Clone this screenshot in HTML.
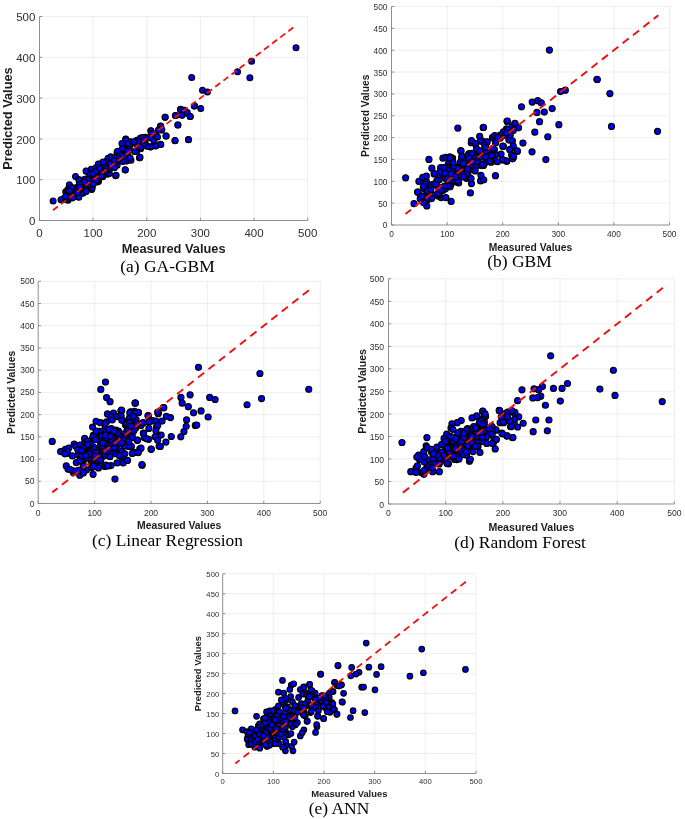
<!DOCTYPE html><html><head><meta charset="utf-8"><title>Predicted vs Measured</title>
<style>html,body{margin:0;padding:0;background:#fff}svg{display:block}.t{font-family:"Liberation Sans",Arial,sans-serif;fill:#2e2e2e}.l{font-family:"Liberation Sans",Arial,sans-serif;font-weight:bold;fill:#1c1c1c}.c{font-family:"Liberation Serif","Times New Roman",serif;fill:#000}.g{stroke:#e4e4e4;stroke-width:0.65;fill:none}.ax{stroke:#7c7c7c;stroke-width:0.85;fill:none}.p circle{fill:#0000ff;stroke:#000;stroke-width:1.2}.d{stroke:#f01010;fill:none}</style></head><body>
<svg width="685" height="819" viewBox="0 0 685 819">
<rect width="685" height="819" fill="#fff"/>
<g id="plot-a">
<path class="g" d="M93.14 16.5V220.5M146.78 16.5V220.5M200.42 16.5V220.5M254.06 16.5V220.5M307.7 16.5V220.5M39.5 179.7H307.7M39.5 138.9H307.7M39.5 98.1H307.7M39.5 57.3H307.7M39.5 16.5H307.7"/>
<path class="ax" d="M39.5 16.5V220.5H307.7M39.5 220.5v-2.7M93.14 220.5v-2.7M146.78 220.5v-2.7M200.42 220.5v-2.7M254.06 220.5v-2.7M307.7 220.5v-2.7M39.5 220.5h2.7M39.5 179.7h2.7M39.5 138.9h2.7M39.5 98.1h2.7M39.5 57.3h2.7M39.5 16.5h2.7"/>
<g class="p">
<circle cx="53.12" cy="200.92" r="2.9"/>
<circle cx="61.01" cy="199.69" r="2.9"/>
<circle cx="67.98" cy="200.22" r="2.9"/>
<circle cx="65.73" cy="191.82" r="2.9"/>
<circle cx="69.38" cy="184.8" r="2.9"/>
<circle cx="67.98" cy="189.21" r="2.9"/>
<circle cx="75.55" cy="176.4" r="2.9"/>
<circle cx="78.87" cy="179.58" r="2.9"/>
<circle cx="86.38" cy="171.34" r="2.9"/>
<circle cx="91.26" cy="169.58" r="2.9"/>
<circle cx="98.61" cy="164.32" r="2.9"/>
<circle cx="106.5" cy="161.5" r="2.9"/>
<circle cx="111.75" cy="161.18" r="2.9"/>
<circle cx="117.01" cy="152.4" r="2.9"/>
<circle cx="120.82" cy="150.65" r="2.9"/>
<circle cx="125.75" cy="139.27" r="2.9"/>
<circle cx="130.63" cy="143.63" r="2.9"/>
<circle cx="136.75" cy="140.16" r="2.9"/>
<circle cx="73.24" cy="197.08" r="2.9"/>
<circle cx="82.89" cy="193.25" r="2.9"/>
<circle cx="91.64" cy="189.53" r="2.9"/>
<circle cx="98.61" cy="181.33" r="2.9"/>
<circle cx="107.35" cy="174.31" r="2.9"/>
<circle cx="115.62" cy="175.7" r="2.9"/>
<circle cx="125.38" cy="169.91" r="2.9"/>
<circle cx="126.99" cy="160.65" r="2.9"/>
<circle cx="131.01" cy="160.28" r="2.9"/>
<circle cx="139.75" cy="157.67" r="2.9"/>
<circle cx="117.6" cy="151.3" r="2.9"/>
<circle cx="121.94" cy="143.43" r="2.9"/>
<circle cx="125.81" cy="139.06" r="2.9"/>
<circle cx="130.69" cy="141.67" r="2.9"/>
<circle cx="136.8" cy="140.82" r="2.9"/>
<circle cx="145.6" cy="137.31" r="2.9"/>
<circle cx="150.8" cy="130.66" r="2.9"/>
<circle cx="160.46" cy="125.93" r="2.9"/>
<circle cx="165.18" cy="117.15" r="2.9"/>
<circle cx="116.15" cy="175.29" r="2.9"/>
<circle cx="125.11" cy="169.7" r="2.9"/>
<circle cx="126.34" cy="160.93" r="2.9"/>
<circle cx="139.43" cy="157.79" r="2.9"/>
<circle cx="136.8" cy="151.3" r="2.9"/>
<circle cx="145.6" cy="145.18" r="2.9"/>
<circle cx="150.48" cy="146.94" r="2.9"/>
<circle cx="155.52" cy="146.04" r="2.9"/>
<circle cx="160.46" cy="144.33" r="2.9"/>
<circle cx="166.04" cy="136.08" r="2.9"/>
<circle cx="174.99" cy="140.82" r="2.9"/>
<circle cx="188.46" cy="139.59" r="2.9"/>
<circle cx="177.94" cy="125.03" r="2.9"/>
<circle cx="175.32" cy="115.4" r="2.9"/>
<circle cx="180.57" cy="109.28" r="2.9"/>
<circle cx="184.44" cy="110.14" r="2.9"/>
<circle cx="186.69" cy="113.32" r="2.9"/>
<circle cx="190.17" cy="116.62" r="2.9"/>
<circle cx="181.97" cy="115.03" r="2.9"/>
<circle cx="194.57" cy="106.1" r="2.9"/>
<circle cx="156.06" cy="135.88" r="2.9"/>
<circle cx="151.71" cy="133.8" r="2.9"/>
<circle cx="161.32" cy="129.92" r="2.9"/>
<circle cx="86.06" cy="170.93" r="2.9"/>
<circle cx="91.32" cy="169.17" r="2.9"/>
<circle cx="98.34" cy="163.91" r="2.9"/>
<circle cx="106.23" cy="161.46" r="2.9"/>
<circle cx="111.81" cy="160.93" r="2.9"/>
<circle cx="102.69" cy="176.72" r="2.9"/>
<circle cx="97.43" cy="181.98" r="2.9"/>
<circle cx="92.23" cy="188.1" r="2.9"/>
<circle cx="191.68" cy="77.54" r="2.9"/>
<circle cx="202.51" cy="90.31" r="2.9"/>
<circle cx="207.39" cy="92.06" r="2.9"/>
<circle cx="194.31" cy="105.89" r="2.9"/>
<circle cx="200.74" cy="108.54" r="2.9"/>
<circle cx="180.47" cy="109.56" r="2.9"/>
<circle cx="183.95" cy="110.26" r="2.9"/>
<circle cx="187.28" cy="112.54" r="2.9"/>
<circle cx="190.23" cy="116.42" r="2.9"/>
<circle cx="175.91" cy="115.52" r="2.9"/>
<circle cx="182.02" cy="115.2" r="2.9"/>
<circle cx="165.07" cy="117.28" r="2.9"/>
<circle cx="177.84" cy="124.99" r="2.9"/>
<circle cx="188.51" cy="139.72" r="2.9"/>
<circle cx="175.05" cy="140.41" r="2.9"/>
<circle cx="166.09" cy="136.04" r="2.9"/>
<circle cx="160.83" cy="126.21" r="2.9"/>
<circle cx="161.91" cy="129.72" r="2.9"/>
<circle cx="158.42" cy="130.09" r="2.9"/>
<circle cx="151.07" cy="130.94" r="2.9"/>
<circle cx="151.77" cy="133.6" r="2.9"/>
<circle cx="156.33" cy="135.68" r="2.9"/>
<circle cx="146.14" cy="137.96" r="2.9"/>
<circle cx="150.53" cy="137.96" r="2.9"/>
<circle cx="154.02" cy="140.94" r="2.9"/>
<circle cx="157.51" cy="137.06" r="2.9"/>
<circle cx="160.83" cy="144.45" r="2.9"/>
<circle cx="155.79" cy="145.84" r="2.9"/>
<circle cx="150.53" cy="146.73" r="2.9"/>
<circle cx="147.05" cy="146.37" r="2.9"/>
<circle cx="145.28" cy="143.22" r="2.9"/>
<circle cx="126.02" cy="139.72" r="2.9"/>
<circle cx="137.39" cy="140.57" r="2.9"/>
<circle cx="130.42" cy="144.08" r="2.9"/>
<circle cx="140.02" cy="157.22" r="2.9"/>
<circle cx="123.39" cy="151.1" r="2.9"/>
<circle cx="296.01" cy="47.71" r="2.9"/>
<circle cx="251.59" cy="61.26" r="2.9"/>
<circle cx="237.54" cy="71.82" r="2.9"/>
<circle cx="249.88" cy="77.82" r="2.9"/>
<circle cx="95.5" cy="173.05" r="2.9"/>
<circle cx="100.33" cy="174.27" r="2.9"/>
<circle cx="78.93" cy="192.84" r="2.9"/>
<circle cx="80.59" cy="191.82" r="2.9"/>
<circle cx="108.05" cy="158.36" r="2.9"/>
<circle cx="117.49" cy="160.48" r="2.9"/>
<circle cx="100.76" cy="171.38" r="2.9"/>
<circle cx="73.4" cy="190.8" r="2.9"/>
<circle cx="86.49" cy="187.78" r="2.9"/>
<circle cx="90.89" cy="180.07" r="2.9"/>
<circle cx="119.75" cy="156.61" r="2.9"/>
<circle cx="126.34" cy="146.73" r="2.9"/>
<circle cx="139" cy="144.82" r="2.9"/>
<circle cx="140.5" cy="137.92" r="2.9"/>
<circle cx="116.53" cy="158.24" r="2.9"/>
<circle cx="79.62" cy="182.96" r="2.9"/>
<circle cx="82.68" cy="187.25" r="2.9"/>
<circle cx="115.51" cy="164.36" r="2.9"/>
<circle cx="67.82" cy="198.63" r="2.9"/>
<circle cx="70.07" cy="193.08" r="2.9"/>
<circle cx="86.01" cy="181.21" r="2.9"/>
<circle cx="86.17" cy="182.92" r="2.9"/>
<circle cx="91.53" cy="182.15" r="2.9"/>
<circle cx="71.15" cy="194.59" r="2.9"/>
<circle cx="91.05" cy="175.21" r="2.9"/>
<circle cx="86.54" cy="186.02" r="2.9"/>
<circle cx="88.63" cy="182.03" r="2.9"/>
<circle cx="96.25" cy="167.58" r="2.9"/>
<circle cx="81.23" cy="193.08" r="2.9"/>
<circle cx="106.12" cy="170.52" r="2.9"/>
<circle cx="124.04" cy="152" r="2.9"/>
<circle cx="97.38" cy="174.6" r="2.9"/>
<circle cx="65.84" cy="199.57" r="2.9"/>
<circle cx="140.72" cy="148.86" r="2.9"/>
<circle cx="83.7" cy="179.86" r="2.9"/>
<circle cx="108.43" cy="168.68" r="2.9"/>
<circle cx="67.61" cy="190.76" r="2.9"/>
<circle cx="126.07" cy="158.81" r="2.9"/>
<circle cx="98.61" cy="171.62" r="2.9"/>
<circle cx="117.17" cy="165.3" r="2.9"/>
<circle cx="87.08" cy="178.72" r="2.9"/>
<circle cx="81.88" cy="189.33" r="2.9"/>
<circle cx="82.36" cy="185.17" r="2.9"/>
<circle cx="129.35" cy="147.22" r="2.9"/>
<circle cx="104.51" cy="166.89" r="2.9"/>
<circle cx="89.92" cy="177.62" r="2.9"/>
<circle cx="110.14" cy="161.83" r="2.9"/>
<circle cx="67.93" cy="193.69" r="2.9"/>
<circle cx="121.94" cy="156.57" r="2.9"/>
<circle cx="72.54" cy="191.98" r="2.9"/>
<circle cx="109.45" cy="164.89" r="2.9"/>
<circle cx="109.34" cy="173.46" r="2.9"/>
<circle cx="98.4" cy="170.4" r="2.9"/>
<circle cx="87.4" cy="183.74" r="2.9"/>
<circle cx="121.09" cy="160.56" r="2.9"/>
<circle cx="78.12" cy="190.27" r="2.9"/>
<circle cx="142.6" cy="137.47" r="2.9"/>
<circle cx="122.8" cy="161.42" r="2.9"/>
<circle cx="76.46" cy="196.06" r="2.9"/>
<circle cx="99.09" cy="175.29" r="2.9"/>
<circle cx="85.09" cy="179.21" r="2.9"/>
<circle cx="101.99" cy="168.68" r="2.9"/>
<circle cx="112.13" cy="158.52" r="2.9"/>
<circle cx="103.28" cy="174.15" r="2.9"/>
<circle cx="103.98" cy="170.68" r="2.9"/>
<circle cx="108.16" cy="169.95" r="2.9"/>
<circle cx="84.66" cy="185.33" r="2.9"/>
<circle cx="78.6" cy="186.31" r="2.9"/>
<circle cx="98.24" cy="180.6" r="2.9"/>
<circle cx="75.01" cy="190.35" r="2.9"/>
<circle cx="85.9" cy="184.35" r="2.9"/>
<circle cx="111.43" cy="166.97" r="2.9"/>
<circle cx="75.87" cy="187.66" r="2.9"/>
<circle cx="88.58" cy="185" r="2.9"/>
<circle cx="127.68" cy="154.73" r="2.9"/>
<circle cx="71.79" cy="187.53" r="2.9"/>
<circle cx="114.06" cy="165.09" r="2.9"/>
<circle cx="88.63" cy="179.33" r="2.9"/>
<circle cx="99.9" cy="172.44" r="2.9"/>
<circle cx="103.92" cy="168.72" r="2.9"/>
<circle cx="102.8" cy="169.83" r="2.9"/>
<circle cx="93.57" cy="175.7" r="2.9"/>
<circle cx="117.6" cy="156.2" r="2.9"/>
<circle cx="124.36" cy="148.98" r="2.9"/>
<circle cx="143.19" cy="144.08" r="2.9"/>
<circle cx="119.85" cy="157.95" r="2.9"/>
<circle cx="76.14" cy="193.94" r="2.9"/>
<circle cx="110.25" cy="168.56" r="2.9"/>
<circle cx="143.67" cy="140.29" r="2.9"/>
<circle cx="138.68" cy="147.79" r="2.9"/>
<circle cx="92.66" cy="179.17" r="2.9"/>
<circle cx="115.13" cy="162.44" r="2.9"/>
<circle cx="69.32" cy="191.12" r="2.9"/>
<circle cx="110.73" cy="156.85" r="2.9"/>
<circle cx="94.53" cy="177.58" r="2.9"/>
<circle cx="116.1" cy="161.26" r="2.9"/>
<circle cx="104.35" cy="173.17" r="2.9"/>
<circle cx="93.19" cy="180.48" r="2.9"/>
<circle cx="105.37" cy="168.03" r="2.9"/>
<circle cx="127.9" cy="143.59" r="2.9"/>
<circle cx="112.93" cy="163.14" r="2.9"/>
<circle cx="86.17" cy="191.45" r="2.9"/>
<circle cx="95.23" cy="171.01" r="2.9"/>
<circle cx="104.67" cy="165.5" r="2.9"/>
<circle cx="74.04" cy="193.86" r="2.9"/>
<circle cx="80.11" cy="188.76" r="2.9"/>
<circle cx="90.46" cy="185.09" r="2.9"/>
<circle cx="121.94" cy="154.93" r="2.9"/>
<circle cx="136.53" cy="144.16" r="2.9"/>
<circle cx="77.58" cy="188.72" r="2.9"/>
<circle cx="64.55" cy="197.86" r="2.9"/>
<circle cx="71.09" cy="196.63" r="2.9"/>
<circle cx="108.86" cy="167.09" r="2.9"/>
<circle cx="107.84" cy="162.65" r="2.9"/>
<circle cx="134.55" cy="151.59" r="2.9"/>
<circle cx="102.9" cy="175.38" r="2.9"/>
<circle cx="123.98" cy="156.24" r="2.9"/>
<circle cx="79.14" cy="180.39" r="2.9"/>
<circle cx="68.95" cy="196.14" r="2.9"/>
<circle cx="130.04" cy="157.79" r="2.9"/>
<circle cx="72.33" cy="197.94" r="2.9"/>
<circle cx="138.3" cy="141.43" r="2.9"/>
<circle cx="82.84" cy="182.64" r="2.9"/>
<circle cx="84.34" cy="183.7" r="2.9"/>
<circle cx="78.82" cy="197.24" r="2.9"/>
<circle cx="75.55" cy="192.02" r="2.9"/>
<circle cx="114.76" cy="157.71" r="2.9"/>
<circle cx="128.86" cy="149.75" r="2.9"/>
<circle cx="93.25" cy="183.98" r="2.9"/>
<circle cx="96.2" cy="179.86" r="2.9"/>
<circle cx="77.1" cy="192.88" r="2.9"/>
<circle cx="79.3" cy="184.64" r="2.9"/>
<circle cx="106.12" cy="166.07" r="2.9"/>
<circle cx="110.3" cy="163.79" r="2.9"/>
<circle cx="90.24" cy="173.99" r="2.9"/>
<circle cx="103.6" cy="163.95" r="2.9"/>
<circle cx="102.9" cy="162.12" r="2.9"/>
<circle cx="140.5" cy="147.55" r="2.9"/>
<circle cx="79.94" cy="187.08" r="2.9"/>
<circle cx="101.62" cy="173.42" r="2.9"/>
<circle cx="126.99" cy="151.34" r="2.9"/>
<circle cx="99.74" cy="168.28" r="2.9"/>
<circle cx="133.8" cy="141.8" r="2.9"/>
<circle cx="92.66" cy="173.66" r="2.9"/>
<circle cx="122.37" cy="148.77" r="2.9"/>
<circle cx="65.84" cy="196.55" r="2.9"/>
<circle cx="114.44" cy="160.48" r="2.9"/>
<circle cx="101.03" cy="175.95" r="2.9"/>
<circle cx="114.44" cy="167.79" r="2.9"/>
<circle cx="84.56" cy="181.9" r="2.9"/>
</g>
<path class="d" stroke-width="1.8" stroke-dasharray="6.2 4.0" stroke-dashoffset="0" d="M52.91 210.3L295.9 25.48"/>
<text class="t" x="39.5" y="237" font-size="11.5" text-anchor="middle">0</text>
<text class="t" x="93.14" y="237" font-size="11.5" text-anchor="middle">100</text>
<text class="t" x="146.78" y="237" font-size="11.5" text-anchor="middle">200</text>
<text class="t" x="200.42" y="237" font-size="11.5" text-anchor="middle">300</text>
<text class="t" x="254.06" y="237" font-size="11.5" text-anchor="middle">400</text>
<text class="t" x="307.7" y="237" font-size="11.5" text-anchor="middle">500</text>
<text class="t" x="35.4" y="225.14" font-size="11.5" text-anchor="end">0</text>
<text class="t" x="35.4" y="184.34" font-size="11.5" text-anchor="end">100</text>
<text class="t" x="35.4" y="143.54" font-size="11.5" text-anchor="end">200</text>
<text class="t" x="35.4" y="102.74" font-size="11.5" text-anchor="end">300</text>
<text class="t" x="35.4" y="61.94" font-size="11.5" text-anchor="end">400</text>
<text class="t" x="35.4" y="21.14" font-size="11.5" text-anchor="end">500</text>
<text class="l" x="173.6" y="253" font-size="12.8" text-anchor="middle">Measured Values</text>
<text class="l" transform="translate(11.7 118.5) rotate(-90)" font-size="12.8" text-anchor="middle">Predicted Values</text>
<text class="c" x="167.5" y="272" font-size="17.45" text-anchor="middle">(a) GA-GBM</text>
</g>
<g id="plot-b">
<path class="g" d="M447.1 6.5V225M502.7 6.5V225M558.3 6.5V225M613.9 6.5V225M669.5 6.5V225M391.5 203.15H669.5M391.5 181.3H669.5M391.5 159.45H669.5M391.5 137.6H669.5M391.5 115.75H669.5M391.5 93.9H669.5M391.5 72.05H669.5M391.5 50.2H669.5M391.5 28.35H669.5M391.5 6.5H669.5"/>
<path class="ax" d="M391.5 6.5V225H669.5M391.5 225v-2.7M447.1 225v-2.7M502.7 225v-2.7M558.3 225v-2.7M613.9 225v-2.7M669.5 225v-2.7M391.5 225h2.7M391.5 203.15h2.7M391.5 181.3h2.7M391.5 159.45h2.7M391.5 137.6h2.7M391.5 115.75h2.7M391.5 93.9h2.7M391.5 72.05h2.7M391.5 50.2h2.7M391.5 28.35h2.7M391.5 6.5h2.7"/>
<g class="p">
<circle cx="405.62" cy="177.8" r="3.0"/>
<circle cx="457.83" cy="128.03" r="3.0"/>
<circle cx="483.18" cy="127.51" r="3.0"/>
<circle cx="428.92" cy="159.41" r="3.0"/>
<circle cx="495.47" cy="175.71" r="3.0"/>
<circle cx="470.4" cy="192.88" r="3.0"/>
<circle cx="451.16" cy="201.45" r="3.0"/>
<circle cx="414.02" cy="203.72" r="3.0"/>
<circle cx="426.81" cy="205.99" r="3.0"/>
<circle cx="507.2" cy="121.39" r="3.0"/>
<circle cx="514.77" cy="123.66" r="3.0"/>
<circle cx="417.52" cy="192.01" r="3.0"/>
<circle cx="418.91" cy="181.47" r="3.0"/>
<circle cx="422.75" cy="177.45" r="3.0"/>
<circle cx="431.87" cy="168.15" r="3.0"/>
<circle cx="434.15" cy="173.96" r="3.0"/>
<circle cx="442.93" cy="158.18" r="3.0"/>
<circle cx="445.88" cy="157.31" r="3.0"/>
<circle cx="449.94" cy="156.96" r="3.0"/>
<circle cx="452.55" cy="158.18" r="3.0"/>
<circle cx="460.94" cy="151.15" r="3.0"/>
<circle cx="469.17" cy="155.56" r="3.0"/>
<circle cx="471.29" cy="142.76" r="3.0"/>
<circle cx="475.68" cy="144.16" r="3.0"/>
<circle cx="479.68" cy="136.29" r="3.0"/>
<circle cx="482.35" cy="141.18" r="3.0"/>
<circle cx="487.08" cy="142.06" r="3.0"/>
<circle cx="492.47" cy="137.69" r="3.0"/>
<circle cx="495.47" cy="142.41" r="3.0"/>
<circle cx="500.75" cy="135.94" r="3.0"/>
<circle cx="503.37" cy="131.92" r="3.0"/>
<circle cx="506.54" cy="128.9" r="3.0"/>
<circle cx="512.1" cy="126.63" r="3.0"/>
<circle cx="420.69" cy="195.85" r="3.0"/>
<circle cx="427.14" cy="200.22" r="3.0"/>
<circle cx="423.64" cy="202.84" r="3.0"/>
<circle cx="435.92" cy="194.98" r="3.0"/>
<circle cx="441.15" cy="197.6" r="3.0"/>
<circle cx="445.88" cy="197.6" r="3.0"/>
<circle cx="442.93" cy="190.56" r="3.0"/>
<circle cx="450.83" cy="184.45" r="3.0"/>
<circle cx="456.05" cy="181.82" r="3.0"/>
<circle cx="460.44" cy="176.23" r="3.0"/>
<circle cx="466.56" cy="178.33" r="3.0"/>
<circle cx="471.45" cy="183.57" r="3.0"/>
<circle cx="480.57" cy="180.95" r="3.0"/>
<circle cx="483.74" cy="179.73" r="3.0"/>
<circle cx="480.96" cy="175.36" r="3.0"/>
<circle cx="485.3" cy="162.55" r="3.0"/>
<circle cx="493.75" cy="160.8" r="3.0"/>
<circle cx="502.48" cy="159.93" r="3.0"/>
<circle cx="506.87" cy="161.33" r="3.0"/>
<circle cx="512.99" cy="158.18" r="3.0"/>
<circle cx="517.38" cy="151.5" r="3.0"/>
<circle cx="510.37" cy="149.4" r="3.0"/>
<circle cx="503.37" cy="146.43" r="3.0"/>
<circle cx="597" cy="79.3" r="3.0"/>
<circle cx="565.31" cy="90.14" r="3.0"/>
<circle cx="560.58" cy="91.54" r="3.0"/>
<circle cx="532.22" cy="102.07" r="3.0"/>
<circle cx="537.78" cy="100.67" r="3.0"/>
<circle cx="541.29" cy="102.95" r="3.0"/>
<circle cx="521.49" cy="106.79" r="3.0"/>
<circle cx="552.18" cy="108.54" r="3.0"/>
<circle cx="536.95" cy="112.39" r="3.0"/>
<circle cx="544.29" cy="112.04" r="3.0"/>
<circle cx="539.56" cy="121.69" r="3.0"/>
<circle cx="558.86" cy="124.66" r="3.0"/>
<circle cx="534.84" cy="132.18" r="3.0"/>
<circle cx="547.79" cy="136.73" r="3.0"/>
<circle cx="522.94" cy="143.06" r="3.0"/>
<circle cx="532.06" cy="151.8" r="3.0"/>
<circle cx="545.85" cy="159.54" r="3.0"/>
<circle cx="507.15" cy="120.99" r="3.0"/>
<circle cx="515.04" cy="123.44" r="3.0"/>
<circle cx="518.55" cy="127.81" r="3.0"/>
<circle cx="513.26" cy="130.43" r="3.0"/>
<circle cx="507.15" cy="129.56" r="3.0"/>
<circle cx="483.52" cy="127.46" r="3.0"/>
<circle cx="500.14" cy="135.15" r="3.0"/>
<circle cx="506.26" cy="135.68" r="3.0"/>
<circle cx="492.8" cy="137.43" r="3.0"/>
<circle cx="508.93" cy="140.09" r="3.0"/>
<circle cx="512.43" cy="140.96" r="3.0"/>
<circle cx="487.02" cy="141.84" r="3.0"/>
<circle cx="495.75" cy="142.71" r="3.0"/>
<circle cx="502.76" cy="146.21" r="3.0"/>
<circle cx="513.26" cy="146.21" r="3.0"/>
<circle cx="509.76" cy="149.7" r="3.0"/>
<circle cx="517.32" cy="150.75" r="3.0"/>
<circle cx="511.54" cy="154.95" r="3.0"/>
<circle cx="501.03" cy="154.07" r="3.0"/>
<circle cx="495.75" cy="154.95" r="3.0"/>
<circle cx="490.52" cy="155.82" r="3.0"/>
<circle cx="512.43" cy="158.84" r="3.0"/>
<circle cx="506.26" cy="160.76" r="3.0"/>
<circle cx="502.42" cy="159.71" r="3.0"/>
<circle cx="493.14" cy="160.24" r="3.0"/>
<circle cx="483.52" cy="165.48" r="3.0"/>
<circle cx="549.4" cy="50.03" r="3.0"/>
<circle cx="597.22" cy="79.48" r="3.0"/>
<circle cx="609.9" cy="93.55" r="3.0"/>
<circle cx="611.51" cy="126.46" r="3.0"/>
<circle cx="657.55" cy="131.35" r="3.0"/>
<circle cx="448.32" cy="163.86" r="3.0"/>
<circle cx="464.34" cy="167.23" r="3.0"/>
<circle cx="424.64" cy="189.21" r="3.0"/>
<circle cx="460.83" cy="150.71" r="3.0"/>
<circle cx="444.32" cy="175.53" r="3.0"/>
<circle cx="510.26" cy="135.07" r="3.0"/>
<circle cx="474.23" cy="159.62" r="3.0"/>
<circle cx="445.99" cy="167.32" r="3.0"/>
<circle cx="458.66" cy="183" r="3.0"/>
<circle cx="475.73" cy="166.57" r="3.0"/>
<circle cx="426.42" cy="181.56" r="3.0"/>
<circle cx="461.11" cy="174.88" r="3.0"/>
<circle cx="469.01" cy="153.51" r="3.0"/>
<circle cx="462.45" cy="162.16" r="3.0"/>
<circle cx="449.94" cy="167.45" r="3.0"/>
<circle cx="478.12" cy="160.5" r="3.0"/>
<circle cx="439.48" cy="177.8" r="3.0"/>
<circle cx="440.65" cy="167.71" r="3.0"/>
<circle cx="476.62" cy="161.72" r="3.0"/>
<circle cx="430.75" cy="192.44" r="3.0"/>
<circle cx="429.36" cy="187.16" r="3.0"/>
<circle cx="478.12" cy="154.56" r="3.0"/>
<circle cx="469.9" cy="161.72" r="3.0"/>
<circle cx="476.12" cy="157.35" r="3.0"/>
<circle cx="447.21" cy="179.46" r="3.0"/>
<circle cx="426.75" cy="194.8" r="3.0"/>
<circle cx="490.97" cy="162.16" r="3.0"/>
<circle cx="485.91" cy="154.38" r="3.0"/>
<circle cx="433.26" cy="195.15" r="3.0"/>
<circle cx="439.26" cy="179.64" r="3.0"/>
<circle cx="455.88" cy="167.32" r="3.0"/>
<circle cx="445.6" cy="178.42" r="3.0"/>
<circle cx="458.83" cy="166.57" r="3.0"/>
<circle cx="447.54" cy="175.58" r="3.0"/>
<circle cx="450.16" cy="186.76" r="3.0"/>
<circle cx="428.86" cy="192.92" r="3.0"/>
<circle cx="463.95" cy="157.35" r="3.0"/>
<circle cx="466.56" cy="172.87" r="3.0"/>
<circle cx="461.83" cy="160.41" r="3.0"/>
<circle cx="457.5" cy="169.85" r="3.0"/>
<circle cx="467.51" cy="155.56" r="3.0"/>
<circle cx="492.19" cy="153.46" r="3.0"/>
<circle cx="442.43" cy="187.55" r="3.0"/>
<circle cx="451.71" cy="158.93" r="3.0"/>
<circle cx="418.08" cy="192.14" r="3.0"/>
<circle cx="460.94" cy="171.99" r="3.0"/>
<circle cx="438.43" cy="174.79" r="3.0"/>
<circle cx="451.66" cy="180.99" r="3.0"/>
<circle cx="437.87" cy="186.76" r="3.0"/>
<circle cx="427.64" cy="190.74" r="3.0"/>
<circle cx="438.98" cy="191.57" r="3.0"/>
<circle cx="494.42" cy="149.49" r="3.0"/>
<circle cx="426.36" cy="176.19" r="3.0"/>
<circle cx="449.38" cy="184.05" r="3.0"/>
<circle cx="452.22" cy="169.94" r="3.0"/>
<circle cx="463.61" cy="165" r="3.0"/>
<circle cx="484.63" cy="144.99" r="3.0"/>
<circle cx="480.35" cy="141.1" r="3.0"/>
<circle cx="456.44" cy="173.39" r="3.0"/>
<circle cx="458.66" cy="174.44" r="3.0"/>
<circle cx="469.45" cy="177.41" r="3.0"/>
<circle cx="486.13" cy="151.15" r="3.0"/>
<circle cx="468.39" cy="171.16" r="3.0"/>
<circle cx="464.39" cy="174.44" r="3.0"/>
<circle cx="450.55" cy="162.16" r="3.0"/>
<circle cx="434.53" cy="173.7" r="3.0"/>
<circle cx="462.61" cy="173.13" r="3.0"/>
<circle cx="476.23" cy="152.33" r="3.0"/>
<circle cx="431.64" cy="198.61" r="3.0"/>
<circle cx="436.87" cy="180.64" r="3.0"/>
<circle cx="476.57" cy="148.96" r="3.0"/>
<circle cx="461.61" cy="158.62" r="3.0"/>
<circle cx="457.83" cy="168.28" r="3.0"/>
<circle cx="472.4" cy="166" r="3.0"/>
<circle cx="438.37" cy="196.25" r="3.0"/>
<circle cx="448.55" cy="180.78" r="3.0"/>
<circle cx="465.89" cy="159.41" r="3.0"/>
<circle cx="460.39" cy="162.03" r="3.0"/>
<circle cx="471.45" cy="140.53" r="3.0"/>
<circle cx="420.25" cy="198.87" r="3.0"/>
<circle cx="471.9" cy="155.25" r="3.0"/>
<circle cx="438.04" cy="194.72" r="3.0"/>
<circle cx="440.32" cy="171.55" r="3.0"/>
<circle cx="449.82" cy="157.75" r="3.0"/>
<circle cx="474.07" cy="155.82" r="3.0"/>
<circle cx="449.1" cy="173.08" r="3.0"/>
<circle cx="459.44" cy="176.32" r="3.0"/>
<circle cx="468.84" cy="158.05" r="3.0"/>
<circle cx="480.57" cy="156.61" r="3.0"/>
<circle cx="445.49" cy="188.69" r="3.0"/>
<circle cx="424.75" cy="184.18" r="3.0"/>
<circle cx="489.91" cy="160.8" r="3.0"/>
<circle cx="430.86" cy="189.43" r="3.0"/>
<circle cx="475.12" cy="170.94" r="3.0"/>
<circle cx="447.04" cy="186.11" r="3.0"/>
<circle cx="461.78" cy="156.65" r="3.0"/>
<circle cx="452.83" cy="174.61" r="3.0"/>
<circle cx="431.42" cy="184.84" r="3.0"/>
<circle cx="469.23" cy="165.52" r="3.0"/>
<circle cx="492.75" cy="148.39" r="3.0"/>
<circle cx="465.61" cy="169.24" r="3.0"/>
<circle cx="453.33" cy="165.96" r="3.0"/>
<circle cx="481.07" cy="165.61" r="3.0"/>
<circle cx="466.39" cy="174.35" r="3.0"/>
<circle cx="467.51" cy="168.93" r="3.0"/>
<circle cx="453.1" cy="176.93" r="3.0"/>
<circle cx="463.89" cy="176.89" r="3.0"/>
<circle cx="471.06" cy="178.59" r="3.0"/>
<circle cx="472.56" cy="161.68" r="3.0"/>
<circle cx="482.57" cy="164.43" r="3.0"/>
<circle cx="448.43" cy="170.94" r="3.0"/>
<circle cx="453.1" cy="162.55" r="3.0"/>
<circle cx="462.89" cy="163.56" r="3.0"/>
<circle cx="447.38" cy="177.1" r="3.0"/>
<circle cx="485.24" cy="157.09" r="3.0"/>
<circle cx="456.5" cy="180.21" r="3.0"/>
<circle cx="423.36" cy="186.72" r="3.0"/>
<circle cx="434.03" cy="184.18" r="3.0"/>
<circle cx="435.92" cy="184.4" r="3.0"/>
<circle cx="485.91" cy="147.3" r="3.0"/>
<circle cx="438.32" cy="193.32" r="3.0"/>
<circle cx="444.54" cy="186.15" r="3.0"/>
<circle cx="444.26" cy="167.62" r="3.0"/>
<circle cx="491.36" cy="155.69" r="3.0"/>
<circle cx="500.31" cy="138.12" r="3.0"/>
<circle cx="494.75" cy="135.55" r="3.0"/>
<circle cx="444.82" cy="173.35" r="3.0"/>
<circle cx="427.31" cy="198.08" r="3.0"/>
<circle cx="440.59" cy="190.04" r="3.0"/>
<circle cx="497.42" cy="161.77" r="3.0"/>
<circle cx="458.11" cy="181.3" r="3.0"/>
<circle cx="472.06" cy="153.33" r="3.0"/>
<circle cx="421.91" cy="196.59" r="3.0"/>
<circle cx="455.5" cy="176.8" r="3.0"/>
<circle cx="497.47" cy="137.43" r="3.0"/>
<circle cx="479.85" cy="150.67" r="3.0"/>
<circle cx="506.37" cy="132.97" r="3.0"/>
<circle cx="450.83" cy="173.96" r="3.0"/>
<circle cx="513.65" cy="156.48" r="3.0"/>
<circle cx="475.62" cy="143.37" r="3.0"/>
</g>
<path class="d" stroke-width="1.95" stroke-dasharray="7.7 5.49" stroke-dashoffset="0.7" d="M405.4 214.07L658.38 15.24"/>
<text class="t" x="391.5" y="237.3" font-size="8.3" text-anchor="middle">0</text>
<text class="t" x="447.1" y="237.3" font-size="8.3" text-anchor="middle">100</text>
<text class="t" x="502.7" y="237.3" font-size="8.3" text-anchor="middle">200</text>
<text class="t" x="558.3" y="237.3" font-size="8.3" text-anchor="middle">300</text>
<text class="t" x="613.9" y="237.3" font-size="8.3" text-anchor="middle">400</text>
<text class="t" x="669.5" y="237.3" font-size="8.3" text-anchor="middle">500</text>
<text class="t" x="387.4" y="228.49" font-size="8.3" text-anchor="end">0</text>
<text class="t" x="387.4" y="206.64" font-size="8.3" text-anchor="end">50</text>
<text class="t" x="387.4" y="184.79" font-size="8.3" text-anchor="end">100</text>
<text class="t" x="387.4" y="162.94" font-size="8.3" text-anchor="end">150</text>
<text class="t" x="387.4" y="141.09" font-size="8.3" text-anchor="end">200</text>
<text class="t" x="387.4" y="119.24" font-size="8.3" text-anchor="end">250</text>
<text class="t" x="387.4" y="97.39" font-size="8.3" text-anchor="end">300</text>
<text class="t" x="387.4" y="75.54" font-size="8.3" text-anchor="end">350</text>
<text class="t" x="387.4" y="53.69" font-size="8.3" text-anchor="end">400</text>
<text class="t" x="387.4" y="31.84" font-size="8.3" text-anchor="end">450</text>
<text class="t" x="387.4" y="9.99" font-size="8.3" text-anchor="end">500</text>
<text class="l" x="530.5" y="250.5" font-size="10.3" text-anchor="middle">Measured Values</text>
<text class="l" transform="translate(368.5 115.75) rotate(-90)" font-size="10.3" text-anchor="middle">Predicted Values</text>
<text class="c" x="519.5" y="267.4" font-size="17.45" text-anchor="middle">(b) GBM</text>
</g>
<g id="plot-c">
<path class="g" d="M94.6 281.3V503.5M151 281.3V503.5M207.4 281.3V503.5M263.8 281.3V503.5M320.2 281.3V503.5M38.2 481.28H320.2M38.2 459.06H320.2M38.2 436.84H320.2M38.2 414.62H320.2M38.2 392.4H320.2M38.2 370.18H320.2M38.2 347.96H320.2M38.2 325.74H320.2M38.2 303.52H320.2M38.2 281.3H320.2"/>
<path class="ax" d="M38.2 281.3V503.5H320.2M38.2 503.5v-2.7M94.6 503.5v-2.7M151 503.5v-2.7M207.4 503.5v-2.7M263.8 503.5v-2.7M320.2 503.5v-2.7M38.2 503.5h2.7M38.2 481.28h2.7M38.2 459.06h2.7M38.2 436.84h2.7M38.2 414.62h2.7M38.2 392.4h2.7M38.2 370.18h2.7M38.2 347.96h2.7M38.2 325.74h2.7M38.2 303.52h2.7M38.2 281.3h2.7"/>
<g class="p">
<circle cx="100.8" cy="389.38" r="3.0"/>
<circle cx="106.56" cy="397.6" r="3.0"/>
<circle cx="110.05" cy="401.64" r="3.0"/>
<circle cx="135.15" cy="403.07" r="3.0"/>
<circle cx="120.94" cy="410.75" r="3.0"/>
<circle cx="107.46" cy="413.91" r="3.0"/>
<circle cx="113.55" cy="413.02" r="3.0"/>
<circle cx="117.1" cy="416.53" r="3.0"/>
<circle cx="130.75" cy="412.13" r="3.0"/>
<circle cx="134.59" cy="411.29" r="3.0"/>
<circle cx="138.48" cy="412.66" r="3.0"/>
<circle cx="96.07" cy="421.24" r="3.0"/>
<circle cx="100.47" cy="422.66" r="3.0"/>
<circle cx="106.56" cy="421.77" r="3.0"/>
<circle cx="92.57" cy="427.06" r="3.0"/>
<circle cx="84.67" cy="438.44" r="3.0"/>
<circle cx="52.24" cy="441.42" r="3.0"/>
<circle cx="74.18" cy="444.22" r="3.0"/>
<circle cx="75.93" cy="446.31" r="3.0"/>
<circle cx="60.65" cy="451.55" r="3.0"/>
<circle cx="65.38" cy="449.46" r="3.0"/>
<circle cx="68.88" cy="448.08" r="3.0"/>
<circle cx="67.13" cy="453.33" r="3.0"/>
<circle cx="72.43" cy="455.95" r="3.0"/>
<circle cx="66.29" cy="465.95" r="3.0"/>
<circle cx="68.04" cy="469.1" r="3.0"/>
<circle cx="73.28" cy="472.57" r="3.0"/>
<circle cx="79.77" cy="475.24" r="3.0"/>
<circle cx="86.42" cy="469.95" r="3.0"/>
<circle cx="93.08" cy="474.35" r="3.0"/>
<circle cx="114.96" cy="479.06" r="3.0"/>
<circle cx="142.15" cy="465.24" r="3.0"/>
<circle cx="151.23" cy="449.28" r="3.0"/>
<circle cx="139.83" cy="448.93" r="3.0"/>
<circle cx="134.59" cy="452.44" r="3.0"/>
<circle cx="127.59" cy="460.35" r="3.0"/>
<circle cx="123.19" cy="462.97" r="3.0"/>
<circle cx="117.1" cy="462.97" r="3.0"/>
<circle cx="110.96" cy="465.59" r="3.0"/>
<circle cx="104.81" cy="466.48" r="3.0"/>
<circle cx="99.56" cy="465.59" r="3.0"/>
<circle cx="148.24" cy="415.64" r="3.0"/>
<circle cx="143.33" cy="422.66" r="3.0"/>
<circle cx="152.13" cy="420.93" r="3.0"/>
<circle cx="143.33" cy="433.2" r="3.0"/>
<circle cx="144.23" cy="437.55" r="3.0"/>
<circle cx="148.63" cy="439.33" r="3.0"/>
<circle cx="137.24" cy="440.17" r="3.0"/>
<circle cx="156.47" cy="427.06" r="3.0"/>
<circle cx="157.37" cy="437.55" r="3.0"/>
<circle cx="159.12" cy="446.31" r="3.0"/>
<circle cx="158.28" cy="413.02" r="3.0"/>
<circle cx="198.49" cy="367.29" r="3.0"/>
<circle cx="190.09" cy="394.8" r="3.0"/>
<circle cx="180.95" cy="397.42" r="3.0"/>
<circle cx="182.19" cy="403.2" r="3.0"/>
<circle cx="188.34" cy="406.71" r="3.0"/>
<circle cx="209.71" cy="397.42" r="3.0"/>
<circle cx="215.13" cy="399.51" r="3.0"/>
<circle cx="201.08" cy="410.89" r="3.0"/>
<circle cx="193.58" cy="412.84" r="3.0"/>
<circle cx="208.13" cy="417.02" r="3.0"/>
<circle cx="186.59" cy="419.82" r="3.0"/>
<circle cx="186.19" cy="426.31" r="3.0"/>
<circle cx="195.33" cy="425.42" r="3.0"/>
<circle cx="196.74" cy="425.11" r="3.0"/>
<circle cx="183.94" cy="431.55" r="3.0"/>
<circle cx="180.78" cy="436.84" r="3.0"/>
<circle cx="171.3" cy="436.48" r="3.0"/>
<circle cx="165.89" cy="442.08" r="3.0"/>
<circle cx="160.31" cy="446.44" r="3.0"/>
<circle cx="151.17" cy="449.11" r="3.0"/>
<circle cx="163.46" cy="407.55" r="3.0"/>
<circle cx="158.16" cy="413.69" r="3.0"/>
<circle cx="166.4" cy="416.31" r="3.0"/>
<circle cx="170.46" cy="417.55" r="3.0"/>
<circle cx="162.05" cy="421.06" r="3.0"/>
<circle cx="135.43" cy="403.02" r="3.0"/>
<circle cx="121.73" cy="410.53" r="3.0"/>
<circle cx="130.53" cy="411.95" r="3.0"/>
<circle cx="138.37" cy="412.31" r="3.0"/>
<circle cx="134.87" cy="413.15" r="3.0"/>
<circle cx="148.01" cy="415.82" r="3.0"/>
<circle cx="152.41" cy="420.71" r="3.0"/>
<circle cx="155.91" cy="421.06" r="3.0"/>
<circle cx="157.66" cy="425.42" r="3.0"/>
<circle cx="155.91" cy="430.71" r="3.0"/>
<circle cx="161.15" cy="435.06" r="3.0"/>
<circle cx="155.06" cy="436.84" r="3.0"/>
<circle cx="157.66" cy="440.31" r="3.0"/>
<circle cx="143.67" cy="433.33" r="3.0"/>
<circle cx="146.26" cy="438.57" r="3.0"/>
<circle cx="137.52" cy="440.31" r="3.0"/>
<circle cx="141.02" cy="448.22" r="3.0"/>
<circle cx="131.37" cy="446.44" r="3.0"/>
<circle cx="132.28" cy="453.46" r="3.0"/>
<circle cx="138.37" cy="452.57" r="3.0"/>
<circle cx="127.03" cy="460.48" r="3.0"/>
<circle cx="121.73" cy="456.97" r="3.0"/>
<circle cx="141.92" cy="464.48" r="3.0"/>
<circle cx="129.62" cy="417.55" r="3.0"/>
<circle cx="131.37" cy="422.8" r="3.0"/>
<circle cx="141.02" cy="425.42" r="3.0"/>
<circle cx="135.77" cy="428.09" r="3.0"/>
<circle cx="132.28" cy="433.33" r="3.0"/>
<circle cx="127.03" cy="430.71" r="3.0"/>
<circle cx="123.48" cy="434.22" r="3.0"/>
<circle cx="127.88" cy="440.31" r="3.0"/>
<circle cx="122.63" cy="443.82" r="3.0"/>
<circle cx="121.73" cy="450.84" r="3.0"/>
<circle cx="142.77" cy="422.8" r="3.0"/>
<circle cx="148.91" cy="421.95" r="3.0"/>
<circle cx="259.91" cy="373.51" r="3.0"/>
<circle cx="308.75" cy="389.24" r="3.0"/>
<circle cx="261.54" cy="398.62" r="3.0"/>
<circle cx="247.05" cy="404.75" r="3.0"/>
<circle cx="105.49" cy="382.09" r="3.0"/>
<circle cx="135.21" cy="403.2" r="3.0"/>
<circle cx="121.39" cy="410.18" r="3.0"/>
<circle cx="163.8" cy="407.69" r="3.0"/>
<circle cx="112.14" cy="451.82" r="3.0"/>
<circle cx="100.41" cy="445.06" r="3.0"/>
<circle cx="110.22" cy="445.15" r="3.0"/>
<circle cx="119.13" cy="436.13" r="3.0"/>
<circle cx="124.77" cy="453.86" r="3.0"/>
<circle cx="82.98" cy="462.53" r="3.0"/>
<circle cx="95.5" cy="458.48" r="3.0"/>
<circle cx="91.22" cy="462.39" r="3.0"/>
<circle cx="89.41" cy="449.11" r="3.0"/>
<circle cx="83.66" cy="459.55" r="3.0"/>
<circle cx="110.56" cy="416.35" r="3.0"/>
<circle cx="112.31" cy="448.39" r="3.0"/>
<circle cx="107.18" cy="451.95" r="3.0"/>
<circle cx="129.79" cy="412.93" r="3.0"/>
<circle cx="104.47" cy="455.73" r="3.0"/>
<circle cx="93.47" cy="435.02" r="3.0"/>
<circle cx="124.38" cy="421.02" r="3.0"/>
<circle cx="96.74" cy="449.15" r="3.0"/>
<circle cx="112.54" cy="442.66" r="3.0"/>
<circle cx="76.33" cy="462.57" r="3.0"/>
<circle cx="115.24" cy="445.99" r="3.0"/>
<circle cx="90.65" cy="446.97" r="3.0"/>
<circle cx="119.02" cy="441.11" r="3.0"/>
<circle cx="84.22" cy="443.24" r="3.0"/>
<circle cx="103.17" cy="450.26" r="3.0"/>
<circle cx="107.63" cy="433.46" r="3.0"/>
<circle cx="92.12" cy="439.55" r="3.0"/>
<circle cx="88.96" cy="443.55" r="3.0"/>
<circle cx="108.64" cy="443.82" r="3.0"/>
<circle cx="93.53" cy="450.97" r="3.0"/>
<circle cx="114.34" cy="440.75" r="3.0"/>
<circle cx="98.1" cy="457.06" r="3.0"/>
<circle cx="103.74" cy="448.62" r="3.0"/>
<circle cx="105.88" cy="445.11" r="3.0"/>
<circle cx="86.7" cy="458.08" r="3.0"/>
<circle cx="116.09" cy="436.04" r="3.0"/>
<circle cx="93.58" cy="462.48" r="3.0"/>
<circle cx="114.62" cy="453.59" r="3.0"/>
<circle cx="114.62" cy="438.35" r="3.0"/>
<circle cx="106.61" cy="442.79" r="3.0"/>
<circle cx="115.81" cy="430.17" r="3.0"/>
<circle cx="116.03" cy="439.42" r="3.0"/>
<circle cx="115.19" cy="434.08" r="3.0"/>
<circle cx="148.86" cy="428.4" r="3.0"/>
<circle cx="101.82" cy="457.15" r="3.0"/>
<circle cx="125.79" cy="440.84" r="3.0"/>
<circle cx="136.11" cy="419.6" r="3.0"/>
<circle cx="106.11" cy="449.77" r="3.0"/>
<circle cx="87.32" cy="441.11" r="3.0"/>
<circle cx="101.88" cy="448.79" r="3.0"/>
<circle cx="133.69" cy="426.13" r="3.0"/>
<circle cx="105.09" cy="428.57" r="3.0"/>
<circle cx="129.4" cy="433.86" r="3.0"/>
<circle cx="118.51" cy="431.02" r="3.0"/>
<circle cx="122.18" cy="436.66" r="3.0"/>
<circle cx="99.51" cy="437.86" r="3.0"/>
<circle cx="73.56" cy="470.97" r="3.0"/>
<circle cx="91.61" cy="467.64" r="3.0"/>
<circle cx="99.17" cy="431.42" r="3.0"/>
<circle cx="127.65" cy="438.22" r="3.0"/>
<circle cx="92.29" cy="458.75" r="3.0"/>
<circle cx="101.48" cy="452.13" r="3.0"/>
<circle cx="88.11" cy="447.51" r="3.0"/>
<circle cx="78.19" cy="455.1" r="3.0"/>
<circle cx="87.21" cy="453.55" r="3.0"/>
<circle cx="125.56" cy="424.89" r="3.0"/>
<circle cx="79.88" cy="445.11" r="3.0"/>
<circle cx="99.11" cy="433.73" r="3.0"/>
<circle cx="96.4" cy="432.75" r="3.0"/>
<circle cx="105.15" cy="423.46" r="3.0"/>
<circle cx="116.54" cy="431.91" r="3.0"/>
<circle cx="67.3" cy="451.77" r="3.0"/>
<circle cx="100.41" cy="454.66" r="3.0"/>
<circle cx="112.14" cy="434.35" r="3.0"/>
<circle cx="83.88" cy="453.82" r="3.0"/>
<circle cx="107.46" cy="440.13" r="3.0"/>
<circle cx="110.45" cy="452.84" r="3.0"/>
<circle cx="124.55" cy="437.86" r="3.0"/>
<circle cx="104.64" cy="439.77" r="3.0"/>
<circle cx="105.88" cy="465.15" r="3.0"/>
<circle cx="110.62" cy="433.11" r="3.0"/>
<circle cx="96.46" cy="431.2" r="3.0"/>
<circle cx="97.53" cy="438.44" r="3.0"/>
<circle cx="89.69" cy="450.62" r="3.0"/>
<circle cx="64.88" cy="453.86" r="3.0"/>
<circle cx="102.27" cy="431.29" r="3.0"/>
<circle cx="83.43" cy="452.35" r="3.0"/>
<circle cx="130.02" cy="437.91" r="3.0"/>
<circle cx="102.44" cy="445.95" r="3.0"/>
<circle cx="93.02" cy="436.62" r="3.0"/>
<circle cx="133.4" cy="416.44" r="3.0"/>
<circle cx="116.43" cy="448.17" r="3.0"/>
<circle cx="92.01" cy="449.99" r="3.0"/>
<circle cx="126.3" cy="423.46" r="3.0"/>
<circle cx="117.84" cy="443.37" r="3.0"/>
<circle cx="70.29" cy="469.5" r="3.0"/>
<circle cx="101.54" cy="441.42" r="3.0"/>
<circle cx="157.66" cy="412.13" r="3.0"/>
<circle cx="117.39" cy="433.28" r="3.0"/>
<circle cx="92.17" cy="448.26" r="3.0"/>
<circle cx="112.2" cy="420" r="3.0"/>
<circle cx="100.3" cy="440" r="3.0"/>
<circle cx="90.54" cy="452.22" r="3.0"/>
<circle cx="93.47" cy="447.02" r="3.0"/>
<circle cx="81.35" cy="458.88" r="3.0"/>
<circle cx="114.34" cy="447.51" r="3.0"/>
<circle cx="128.55" cy="446.44" r="3.0"/>
<circle cx="119.64" cy="438.8" r="3.0"/>
<circle cx="121.16" cy="416.04" r="3.0"/>
<circle cx="110.05" cy="456.7" r="3.0"/>
<circle cx="107.68" cy="438" r="3.0"/>
<circle cx="108.59" cy="448.93" r="3.0"/>
<circle cx="111.41" cy="428.62" r="3.0"/>
<circle cx="105.15" cy="432.31" r="3.0"/>
<circle cx="80.05" cy="461.06" r="3.0"/>
<circle cx="80.78" cy="470.61" r="3.0"/>
<circle cx="83.38" cy="473.06" r="3.0"/>
<circle cx="102.72" cy="443.15" r="3.0"/>
<circle cx="98.6" cy="454.13" r="3.0"/>
<circle cx="124.32" cy="445.99" r="3.0"/>
<circle cx="107.8" cy="465.99" r="3.0"/>
<circle cx="77.85" cy="449.82" r="3.0"/>
<circle cx="114.34" cy="431.15" r="3.0"/>
<circle cx="103.06" cy="454.35" r="3.0"/>
<circle cx="95.16" cy="460.84" r="3.0"/>
<circle cx="90.88" cy="443.82" r="3.0"/>
<circle cx="131.09" cy="435.33" r="3.0"/>
<circle cx="92.74" cy="454.26" r="3.0"/>
<circle cx="83.26" cy="447.77" r="3.0"/>
<circle cx="132.5" cy="437.46" r="3.0"/>
<circle cx="87.61" cy="444.62" r="3.0"/>
<circle cx="96.97" cy="460.66" r="3.0"/>
<circle cx="112.08" cy="438.17" r="3.0"/>
<circle cx="83.21" cy="466.26" r="3.0"/>
<circle cx="95.78" cy="452.75" r="3.0"/>
<circle cx="113.32" cy="439.37" r="3.0"/>
<circle cx="78.41" cy="470.26" r="3.0"/>
<circle cx="128.89" cy="442" r="3.0"/>
<circle cx="98.38" cy="458.93" r="3.0"/>
<circle cx="111.52" cy="440.44" r="3.0"/>
<circle cx="100.01" cy="457.28" r="3.0"/>
<circle cx="100.58" cy="460.3" r="3.0"/>
<circle cx="129.4" cy="422.57" r="3.0"/>
<circle cx="95.22" cy="439.77" r="3.0"/>
<circle cx="81.63" cy="455.77" r="3.0"/>
<circle cx="93.53" cy="466.48" r="3.0"/>
<circle cx="101.59" cy="436.08" r="3.0"/>
<circle cx="128.44" cy="429.86" r="3.0"/>
<circle cx="110.22" cy="436.35" r="3.0"/>
<circle cx="105.15" cy="435.2" r="3.0"/>
<circle cx="81.85" cy="450.53" r="3.0"/>
<circle cx="108.76" cy="429.42" r="3.0"/>
<circle cx="88.9" cy="454.35" r="3.0"/>
<circle cx="118.91" cy="455.37" r="3.0"/>
<circle cx="123.25" cy="440.13" r="3.0"/>
<circle cx="137.18" cy="423.69" r="3.0"/>
<circle cx="94.99" cy="456.13" r="3.0"/>
<circle cx="114.62" cy="443.28" r="3.0"/>
<circle cx="121.84" cy="420.31" r="3.0"/>
<circle cx="122.12" cy="442.97" r="3.0"/>
<circle cx="133.91" cy="430.75" r="3.0"/>
<circle cx="85.8" cy="455.59" r="3.0"/>
<circle cx="98.49" cy="467.9" r="3.0"/>
<circle cx="104.98" cy="451.02" r="3.0"/>
<circle cx="130.75" cy="426.17" r="3.0"/>
</g>
<path class="d" stroke-width="1.95" stroke-dasharray="7.8 5.53" stroke-dashoffset="1.1" d="M52.3 492.39L308.92 290.19"/>
<text class="t" x="38.2" y="516" font-size="8.5" text-anchor="middle">0</text>
<text class="t" x="94.6" y="516" font-size="8.5" text-anchor="middle">100</text>
<text class="t" x="151" y="516" font-size="8.5" text-anchor="middle">200</text>
<text class="t" x="207.4" y="516" font-size="8.5" text-anchor="middle">300</text>
<text class="t" x="263.8" y="516" font-size="8.5" text-anchor="middle">400</text>
<text class="t" x="320.2" y="516" font-size="8.5" text-anchor="middle">500</text>
<text class="t" x="34.5" y="506.56" font-size="8.5" text-anchor="end">0</text>
<text class="t" x="34.5" y="484.34" font-size="8.5" text-anchor="end">50</text>
<text class="t" x="34.5" y="462.12" font-size="8.5" text-anchor="end">100</text>
<text class="t" x="34.5" y="439.9" font-size="8.5" text-anchor="end">150</text>
<text class="t" x="34.5" y="417.68" font-size="8.5" text-anchor="end">200</text>
<text class="t" x="34.5" y="395.46" font-size="8.5" text-anchor="end">250</text>
<text class="t" x="34.5" y="373.24" font-size="8.5" text-anchor="end">300</text>
<text class="t" x="34.5" y="351.02" font-size="8.5" text-anchor="end">350</text>
<text class="t" x="34.5" y="328.8" font-size="8.5" text-anchor="end">400</text>
<text class="t" x="34.5" y="306.58" font-size="8.5" text-anchor="end">450</text>
<text class="t" x="34.5" y="284.36" font-size="8.5" text-anchor="end">500</text>
<text class="l" x="179.2" y="529.1" font-size="10.4" text-anchor="middle">Measured Values</text>
<text class="l" transform="translate(15.4 392.4) rotate(-90)" font-size="10.4" text-anchor="middle">Predicted Values</text>
<text class="c" x="167.5" y="546" font-size="17.45" text-anchor="middle">(c) Linear Regression</text>
</g>
<g id="plot-d">
<path class="g" d="M445.66 278.8V504M502.82 278.8V504M559.98 278.8V504M617.14 278.8V504M674.3 278.8V504M388.5 481.48H674.3M388.5 458.96H674.3M388.5 436.44H674.3M388.5 413.92H674.3M388.5 391.4H674.3M388.5 368.88H674.3M388.5 346.36H674.3M388.5 323.84H674.3M388.5 301.32H674.3M388.5 278.8H674.3"/>
<path class="ax" d="M388.5 278.8V504H674.3M388.5 504v-2.7M445.66 504v-2.7M502.82 504v-2.7M559.98 504v-2.7M617.14 504v-2.7M674.3 504v-2.7M388.5 504h2.7M388.5 481.48h2.7M388.5 458.96h2.7M388.5 436.44h2.7M388.5 413.92h2.7M388.5 391.4h2.7M388.5 368.88h2.7M388.5 346.36h2.7M388.5 323.84h2.7M388.5 301.32h2.7M388.5 278.8h2.7"/>
<g class="p">
<circle cx="401.99" cy="442.48" r="3.0"/>
<circle cx="426.91" cy="437.57" r="3.0"/>
<circle cx="426.17" cy="445.94" r="3.0"/>
<circle cx="418.62" cy="455.09" r="3.0"/>
<circle cx="419.54" cy="459.46" r="3.0"/>
<circle cx="423.88" cy="451.57" r="3.0"/>
<circle cx="410.79" cy="471.71" r="3.0"/>
<circle cx="415.99" cy="468.19" r="3.0"/>
<circle cx="421.25" cy="472.61" r="3.0"/>
<circle cx="423.88" cy="474.36" r="3.0"/>
<circle cx="432.68" cy="471.71" r="3.0"/>
<circle cx="439.32" cy="471.71" r="3.0"/>
<circle cx="427.43" cy="466.48" r="3.0"/>
<circle cx="448.4" cy="463.82" r="3.0"/>
<circle cx="454.58" cy="459.46" r="3.0"/>
<circle cx="469.44" cy="461.21" r="3.0"/>
<circle cx="470.35" cy="459.46" r="3.0"/>
<circle cx="479.96" cy="452.43" r="3.0"/>
<circle cx="495.22" cy="448.96" r="3.0"/>
<circle cx="493.45" cy="441.93" r="3.0"/>
<circle cx="501.85" cy="433.2" r="3.0"/>
<circle cx="507.11" cy="435.81" r="3.0"/>
<circle cx="512.37" cy="437.57" r="3.0"/>
<circle cx="495.73" cy="430.18" r="3.0"/>
<circle cx="492.25" cy="427.03" r="3.0"/>
<circle cx="486.07" cy="427.03" r="3.0"/>
<circle cx="482.59" cy="411.26" r="3.0"/>
<circle cx="476.81" cy="416.53" r="3.0"/>
<circle cx="472.07" cy="417.93" r="3.0"/>
<circle cx="482.07" cy="419.14" r="3.0"/>
<circle cx="485.56" cy="416.53" r="3.0"/>
<circle cx="461.21" cy="420.54" r="3.0"/>
<circle cx="457.21" cy="422.66" r="3.0"/>
<circle cx="451.95" cy="423.87" r="3.0"/>
<circle cx="451.03" cy="427.93" r="3.0"/>
<circle cx="446.69" cy="434.05" r="3.0"/>
<circle cx="444.06" cy="438.42" r="3.0"/>
<circle cx="499.22" cy="410.41" r="3.0"/>
<circle cx="503.62" cy="413.92" r="3.0"/>
<circle cx="507.96" cy="412.16" r="3.0"/>
<circle cx="507.11" cy="417.39" r="3.0"/>
<circle cx="500.13" cy="422.66" r="3.0"/>
<circle cx="503.62" cy="422.66" r="3.0"/>
<circle cx="510.59" cy="426.71" r="3.0"/>
<circle cx="514.14" cy="413.02" r="3.0"/>
<circle cx="514.14" cy="422.66" r="3.0"/>
<circle cx="475.61" cy="428.78" r="3.0"/>
<circle cx="470.35" cy="430.54" r="3.0"/>
<circle cx="479.1" cy="427.03" r="3.0"/>
<circle cx="550.66" cy="355.86" r="3.0"/>
<circle cx="567.47" cy="383.52" r="3.0"/>
<circle cx="562.04" cy="388.43" r="3.0"/>
<circle cx="553.46" cy="388.43" r="3.0"/>
<circle cx="542.43" cy="386.54" r="3.0"/>
<circle cx="538.6" cy="389.69" r="3.0"/>
<circle cx="534.03" cy="388.79" r="3.0"/>
<circle cx="521.97" cy="389.87" r="3.0"/>
<circle cx="540.72" cy="396.17" r="3.0"/>
<circle cx="537.69" cy="397.57" r="3.0"/>
<circle cx="532.83" cy="397.89" r="3.0"/>
<circle cx="517.57" cy="400.72" r="3.0"/>
<circle cx="545.4" cy="405.27" r="3.0"/>
<circle cx="560.32" cy="401.04" r="3.0"/>
<circle cx="535.8" cy="420" r="3.0"/>
<circle cx="548.95" cy="420" r="3.0"/>
<circle cx="547.35" cy="430.86" r="3.0"/>
<circle cx="533.17" cy="431.71" r="3.0"/>
<circle cx="523.17" cy="423.29" r="3.0"/>
<circle cx="517.57" cy="426.98" r="3.0"/>
<circle cx="511.28" cy="426.44" r="3.0"/>
<circle cx="512.99" cy="437.48" r="3.0"/>
<circle cx="506.88" cy="436.08" r="3.0"/>
<circle cx="502.48" cy="433.83" r="3.0"/>
<circle cx="493.39" cy="442.21" r="3.0"/>
<circle cx="499.5" cy="410.68" r="3.0"/>
<circle cx="507.39" cy="412.43" r="3.0"/>
<circle cx="514.94" cy="412.43" r="3.0"/>
<circle cx="511.79" cy="410.68" r="3.0"/>
<circle cx="518.77" cy="416.8" r="3.0"/>
<circle cx="514.42" cy="419.46" r="3.0"/>
<circle cx="510.02" cy="421.22" r="3.0"/>
<circle cx="507.39" cy="416.8" r="3.0"/>
<circle cx="501.28" cy="416.8" r="3.0"/>
<circle cx="503.05" cy="422.07" r="3.0"/>
<circle cx="496.02" cy="429.95" r="3.0"/>
<circle cx="491.62" cy="426.44" r="3.0"/>
<circle cx="486.42" cy="427.34" r="3.0"/>
<circle cx="489.9" cy="431.71" r="3.0"/>
<circle cx="482.87" cy="411.22" r="3.0"/>
<circle cx="484.64" cy="416.31" r="3.0"/>
<circle cx="481.16" cy="419.46" r="3.0"/>
<circle cx="476.76" cy="415.95" r="3.0"/>
<circle cx="478.53" cy="426.44" r="3.0"/>
<circle cx="483.79" cy="431.71" r="3.0"/>
<circle cx="478.53" cy="436.08" r="3.0"/>
<circle cx="485.5" cy="436.08" r="3.0"/>
<circle cx="491.62" cy="435.22" r="3.0"/>
<circle cx="482.01" cy="441.35" r="3.0"/>
<circle cx="613.37" cy="370.23" r="3.0"/>
<circle cx="599.88" cy="389.06" r="3.0"/>
<circle cx="615.03" cy="395.41" r="3.0"/>
<circle cx="662.24" cy="401.53" r="3.0"/>
<circle cx="441.49" cy="455.22" r="3.0"/>
<circle cx="422.8" cy="471.75" r="3.0"/>
<circle cx="464.69" cy="450.85" r="3.0"/>
<circle cx="472.3" cy="430.86" r="3.0"/>
<circle cx="461.95" cy="452.47" r="3.0"/>
<circle cx="470.3" cy="447.11" r="3.0"/>
<circle cx="450.69" cy="447.97" r="3.0"/>
<circle cx="476.47" cy="426.8" r="3.0"/>
<circle cx="456.69" cy="449.86" r="3.0"/>
<circle cx="464.18" cy="440.58" r="3.0"/>
<circle cx="417.37" cy="465.9" r="3.0"/>
<circle cx="460.81" cy="431.4" r="3.0"/>
<circle cx="446.12" cy="459.41" r="3.0"/>
<circle cx="485.67" cy="430.9" r="3.0"/>
<circle cx="451.38" cy="444.5" r="3.0"/>
<circle cx="460.12" cy="435.67" r="3.0"/>
<circle cx="475.21" cy="430" r="3.0"/>
<circle cx="473.33" cy="446.8" r="3.0"/>
<circle cx="458.46" cy="453.1" r="3.0"/>
<circle cx="444.8" cy="452.79" r="3.0"/>
<circle cx="466.98" cy="440.09" r="3.0"/>
<circle cx="445.37" cy="446.71" r="3.0"/>
<circle cx="431.66" cy="452.38" r="3.0"/>
<circle cx="473.67" cy="426.67" r="3.0"/>
<circle cx="465.95" cy="442.48" r="3.0"/>
<circle cx="428.28" cy="459.91" r="3.0"/>
<circle cx="462.01" cy="454.82" r="3.0"/>
<circle cx="475.61" cy="440.27" r="3.0"/>
<circle cx="460.06" cy="440.18" r="3.0"/>
<circle cx="470.81" cy="429.19" r="3.0"/>
<circle cx="453.83" cy="450.94" r="3.0"/>
<circle cx="432.8" cy="461.89" r="3.0"/>
<circle cx="445.77" cy="450.94" r="3.0"/>
<circle cx="459.95" cy="447.56" r="3.0"/>
<circle cx="492.19" cy="431.08" r="3.0"/>
<circle cx="485.04" cy="415.99" r="3.0"/>
<circle cx="449.89" cy="436.3" r="3.0"/>
<circle cx="452.81" cy="429.28" r="3.0"/>
<circle cx="484.36" cy="422.03" r="3.0"/>
<circle cx="452.58" cy="452.7" r="3.0"/>
<circle cx="496.42" cy="439.41" r="3.0"/>
<circle cx="469.9" cy="442.57" r="3.0"/>
<circle cx="462.35" cy="442.93" r="3.0"/>
<circle cx="479.1" cy="433.6" r="3.0"/>
<circle cx="488.82" cy="428.69" r="3.0"/>
<circle cx="460.01" cy="449.32" r="3.0"/>
<circle cx="456.63" cy="459.55" r="3.0"/>
<circle cx="448.12" cy="456.57" r="3.0"/>
<circle cx="469.21" cy="435.67" r="3.0"/>
<circle cx="416.11" cy="472.43" r="3.0"/>
<circle cx="468.81" cy="448.6" r="3.0"/>
<circle cx="426.17" cy="468.73" r="3.0"/>
<circle cx="470.81" cy="433.83" r="3.0"/>
<circle cx="448.92" cy="451.75" r="3.0"/>
<circle cx="464.81" cy="445.27" r="3.0"/>
<circle cx="457.84" cy="456.62" r="3.0"/>
<circle cx="424.23" cy="470.58" r="3.0"/>
<circle cx="461.49" cy="437.39" r="3.0"/>
<circle cx="481.21" cy="420.54" r="3.0"/>
<circle cx="464.52" cy="449.28" r="3.0"/>
<circle cx="436.97" cy="447.16" r="3.0"/>
<circle cx="451.49" cy="451.08" r="3.0"/>
<circle cx="445.32" cy="454.37" r="3.0"/>
<circle cx="424.23" cy="462.11" r="3.0"/>
<circle cx="447.6" cy="450.49" r="3.0"/>
<circle cx="427.14" cy="447.61" r="3.0"/>
<circle cx="489.56" cy="434.59" r="3.0"/>
<circle cx="452.75" cy="448.74" r="3.0"/>
<circle cx="447.66" cy="453.42" r="3.0"/>
<circle cx="438.06" cy="451.98" r="3.0"/>
<circle cx="453.89" cy="447.2" r="3.0"/>
<circle cx="479.38" cy="422.48" r="3.0"/>
<circle cx="485.04" cy="413.97" r="3.0"/>
<circle cx="482.47" cy="424.14" r="3.0"/>
<circle cx="439.09" cy="463.96" r="3.0"/>
<circle cx="452.23" cy="454.19" r="3.0"/>
<circle cx="441.6" cy="444.46" r="3.0"/>
<circle cx="447.03" cy="463.51" r="3.0"/>
<circle cx="441.14" cy="452.07" r="3.0"/>
<circle cx="458.01" cy="445.36" r="3.0"/>
<circle cx="442.34" cy="460" r="3.0"/>
<circle cx="457.95" cy="438.83" r="3.0"/>
<circle cx="462.24" cy="444.91" r="3.0"/>
<circle cx="468.07" cy="445.63" r="3.0"/>
<circle cx="468.18" cy="438.02" r="3.0"/>
<circle cx="460.24" cy="445.09" r="3.0"/>
<circle cx="449.78" cy="453.78" r="3.0"/>
<circle cx="447.77" cy="448.47" r="3.0"/>
<circle cx="455.38" cy="444.68" r="3.0"/>
<circle cx="467.44" cy="428.65" r="3.0"/>
<circle cx="435.2" cy="463.24" r="3.0"/>
<circle cx="455.66" cy="443.15" r="3.0"/>
<circle cx="445.43" cy="441.39" r="3.0"/>
<circle cx="433.03" cy="458.6" r="3.0"/>
<circle cx="474.35" cy="441.44" r="3.0"/>
<circle cx="466.12" cy="438.15" r="3.0"/>
<circle cx="457.84" cy="432.93" r="3.0"/>
<circle cx="416.85" cy="456.98" r="3.0"/>
<circle cx="478.53" cy="430.67" r="3.0"/>
<circle cx="477.5" cy="436.03" r="3.0"/>
<circle cx="466.47" cy="455.27" r="3.0"/>
<circle cx="459.09" cy="441.62" r="3.0"/>
<circle cx="472.35" cy="443.15" r="3.0"/>
<circle cx="466.35" cy="430.18" r="3.0"/>
<circle cx="473.04" cy="434.91" r="3.0"/>
<circle cx="466.35" cy="451.89" r="3.0"/>
<circle cx="477.5" cy="443.24" r="3.0"/>
<circle cx="492.13" cy="434.37" r="3.0"/>
<circle cx="477.04" cy="433.11" r="3.0"/>
<circle cx="424.63" cy="456.71" r="3.0"/>
<circle cx="451.89" cy="442.39" r="3.0"/>
<circle cx="462.06" cy="441.17" r="3.0"/>
<circle cx="443.32" cy="455.67" r="3.0"/>
<circle cx="440.06" cy="462.11" r="3.0"/>
<circle cx="486.7" cy="443.42" r="3.0"/>
<circle cx="439.26" cy="458.15" r="3.0"/>
<circle cx="478.01" cy="446.39" r="3.0"/>
<circle cx="431.26" cy="449.23" r="3.0"/>
<circle cx="458.92" cy="458.96" r="3.0"/>
<circle cx="437.37" cy="454.91" r="3.0"/>
<circle cx="470.75" cy="438.06" r="3.0"/>
<circle cx="463.89" cy="437.3" r="3.0"/>
<circle cx="455.43" cy="448.78" r="3.0"/>
<circle cx="473.04" cy="451.57" r="3.0"/>
<circle cx="450.69" cy="457.02" r="3.0"/>
<circle cx="453.09" cy="456.17" r="3.0"/>
<circle cx="481.21" cy="432.3" r="3.0"/>
<circle cx="463.84" cy="433.33" r="3.0"/>
<circle cx="433.66" cy="453.78" r="3.0"/>
<circle cx="474.75" cy="436.8" r="3.0"/>
<circle cx="475.33" cy="446.44" r="3.0"/>
<circle cx="432.46" cy="467.79" r="3.0"/>
<circle cx="471.9" cy="436.53" r="3.0"/>
<circle cx="492.3" cy="443.38" r="3.0"/>
<circle cx="475.78" cy="428.24" r="3.0"/>
<circle cx="453.09" cy="440.94" r="3.0"/>
<circle cx="486.47" cy="436.98" r="3.0"/>
<circle cx="452.23" cy="437.21" r="3.0"/>
<circle cx="456.01" cy="438.74" r="3.0"/>
<circle cx="482.36" cy="437.39" r="3.0"/>
</g>
<path class="d" stroke-width="1.95" stroke-dasharray="7.85 5.62" stroke-dashoffset="0" d="M402.79 492.74L662.87 287.81"/>
<text class="t" x="388.5" y="516.2" font-size="8.6" text-anchor="middle">0</text>
<text class="t" x="445.66" y="516.2" font-size="8.6" text-anchor="middle">100</text>
<text class="t" x="502.82" y="516.2" font-size="8.6" text-anchor="middle">200</text>
<text class="t" x="559.98" y="516.2" font-size="8.6" text-anchor="middle">300</text>
<text class="t" x="617.14" y="516.2" font-size="8.6" text-anchor="middle">400</text>
<text class="t" x="674.3" y="516.2" font-size="8.6" text-anchor="middle">500</text>
<text class="t" x="384.1" y="507.6" font-size="8.6" text-anchor="end">0</text>
<text class="t" x="384.1" y="485.08" font-size="8.6" text-anchor="end">50</text>
<text class="t" x="384.1" y="462.56" font-size="8.6" text-anchor="end">100</text>
<text class="t" x="384.1" y="440.04" font-size="8.6" text-anchor="end">150</text>
<text class="t" x="384.1" y="417.52" font-size="8.6" text-anchor="end">200</text>
<text class="t" x="384.1" y="395" font-size="8.6" text-anchor="end">250</text>
<text class="t" x="384.1" y="372.48" font-size="8.6" text-anchor="end">300</text>
<text class="t" x="384.1" y="349.96" font-size="8.6" text-anchor="end">350</text>
<text class="t" x="384.1" y="327.44" font-size="8.6" text-anchor="end">400</text>
<text class="t" x="384.1" y="304.92" font-size="8.6" text-anchor="end">450</text>
<text class="t" x="384.1" y="282.4" font-size="8.6" text-anchor="end">500</text>
<text class="l" x="531.4" y="531" font-size="10.6" text-anchor="middle">Measured Values</text>
<text class="l" transform="translate(365.7 391.4) rotate(-90)" font-size="10.6" text-anchor="middle">Predicted Values</text>
<text class="c" x="520" y="548" font-size="17.45" text-anchor="middle">(d) Random Forest</text>
</g>
<g id="plot-e">
<path class="g" d="M273.36 573.8V773.5M324.02 573.8V773.5M374.68 573.8V773.5M425.34 573.8V773.5M476 573.8V773.5M222.7 753.53H476M222.7 733.56H476M222.7 713.59H476M222.7 693.62H476M222.7 673.65H476M222.7 653.68H476M222.7 633.71H476M222.7 613.74H476M222.7 593.77H476M222.7 573.8H476"/>
<path class="ax" d="M222.7 573.8V773.5H476M222.7 773.5v-2.7M273.36 773.5v-2.7M324.02 773.5v-2.7M374.68 773.5v-2.7M425.34 773.5v-2.7M476 773.5v-2.7M222.7 773.5h2.7M222.7 753.53h2.7M222.7 733.56h2.7M222.7 713.59h2.7M222.7 693.62h2.7M222.7 673.65h2.7M222.7 653.68h2.7M222.7 633.71h2.7M222.7 613.74h2.7M222.7 593.77h2.7M222.7 573.8h2.7"/>
<g class="p">
<circle cx="235.01" cy="710.91" r="2.75"/>
<circle cx="256.54" cy="716.35" r="2.75"/>
<circle cx="266.52" cy="711.95" r="2.75"/>
<circle cx="242.51" cy="729.81" r="2.75"/>
<circle cx="246.92" cy="731.56" r="2.75"/>
<circle cx="251.27" cy="728.93" r="2.75"/>
<circle cx="247.78" cy="736.84" r="2.75"/>
<circle cx="248.64" cy="741.19" r="2.75"/>
<circle cx="248.64" cy="744.7" r="2.75"/>
<circle cx="253.91" cy="744.7" r="2.75"/>
<circle cx="259.18" cy="744.7" r="2.75"/>
<circle cx="267.03" cy="746.46" r="2.75"/>
<circle cx="271.43" cy="742.95" r="2.75"/>
<circle cx="279.29" cy="743.82" r="2.75"/>
<circle cx="286.33" cy="744.7" r="2.75"/>
<circle cx="285.42" cy="750.85" r="2.75"/>
<circle cx="292.97" cy="750.85" r="2.75"/>
<circle cx="291.55" cy="746.46" r="2.75"/>
<circle cx="294.18" cy="742.07" r="2.75"/>
<circle cx="300.31" cy="735.96" r="2.75"/>
<circle cx="303.86" cy="729.81" r="2.75"/>
<circle cx="307.35" cy="721.06" r="2.75"/>
<circle cx="315.56" cy="732.44" r="2.75"/>
<circle cx="316.98" cy="726.65" r="2.75"/>
<circle cx="323.61" cy="718.42" r="2.75"/>
<circle cx="317.84" cy="716.15" r="2.75"/>
<circle cx="337.14" cy="714.07" r="2.75"/>
<circle cx="342.36" cy="702.13" r="2.75"/>
<circle cx="320.47" cy="674.13" r="2.75"/>
<circle cx="338" cy="665.86" r="2.75"/>
<circle cx="282.48" cy="680.4" r="2.75"/>
<circle cx="291.24" cy="685.15" r="2.75"/>
<circle cx="293.67" cy="683.75" r="2.75"/>
<circle cx="309.63" cy="684.27" r="2.75"/>
<circle cx="278.43" cy="692.14" r="2.75"/>
<circle cx="283.69" cy="693.02" r="2.75"/>
<circle cx="289.82" cy="689.51" r="2.75"/>
<circle cx="300.31" cy="689.51" r="2.75"/>
<circle cx="304.16" cy="686.91" r="2.75"/>
<circle cx="305.58" cy="693.02" r="2.75"/>
<circle cx="312.06" cy="691.26" r="2.75"/>
<circle cx="315.21" cy="693.02" r="2.75"/>
<circle cx="298.59" cy="697.41" r="2.75"/>
<circle cx="290.69" cy="696.54" r="2.75"/>
<circle cx="286.33" cy="700.05" r="2.75"/>
<circle cx="282.83" cy="702.33" r="2.75"/>
<circle cx="292.46" cy="701.81" r="2.75"/>
<circle cx="295.95" cy="706.16" r="2.75"/>
<circle cx="301.22" cy="703.53" r="2.75"/>
<circle cx="305.58" cy="706.16" r="2.75"/>
<circle cx="276.7" cy="708.8" r="2.75"/>
<circle cx="334.51" cy="682.52" r="2.75"/>
<circle cx="341.5" cy="684.79" r="2.75"/>
<circle cx="337.14" cy="685.15" r="2.75"/>
<circle cx="333.09" cy="691.62" r="2.75"/>
<circle cx="329.59" cy="693.02" r="2.75"/>
<circle cx="322.25" cy="695.66" r="2.75"/>
<circle cx="321.34" cy="700.05" r="2.75"/>
<circle cx="326.6" cy="702.65" r="2.75"/>
<circle cx="329.24" cy="697.41" r="2.75"/>
<circle cx="331.87" cy="702.65" r="2.75"/>
<circle cx="325.74" cy="707.92" r="2.75"/>
<circle cx="331.87" cy="708.8" r="2.75"/>
<circle cx="334.51" cy="709.68" r="2.75"/>
<circle cx="330.1" cy="712.31" r="2.75"/>
<circle cx="316.62" cy="704.4" r="2.75"/>
<circle cx="312.57" cy="707.92" r="2.75"/>
<circle cx="366.22" cy="643.06" r="2.75"/>
<circle cx="338" cy="665.46" r="2.75"/>
<circle cx="351.68" cy="667.38" r="2.75"/>
<circle cx="368.85" cy="667.22" r="2.75"/>
<circle cx="381.11" cy="666.7" r="2.75"/>
<circle cx="320.68" cy="674.21" r="2.75"/>
<circle cx="359.03" cy="672.29" r="2.75"/>
<circle cx="356.04" cy="674.05" r="2.75"/>
<circle cx="350.82" cy="675.81" r="2.75"/>
<circle cx="376.55" cy="674.41" r="2.75"/>
<circle cx="334.71" cy="682.28" r="2.75"/>
<circle cx="341.14" cy="684.91" r="2.75"/>
<circle cx="337.29" cy="685.43" r="2.75"/>
<circle cx="361.66" cy="687.19" r="2.75"/>
<circle cx="363.59" cy="687.03" r="2.75"/>
<circle cx="374.98" cy="689.83" r="2.75"/>
<circle cx="342.05" cy="701.73" r="2.75"/>
<circle cx="353.1" cy="710.67" r="2.75"/>
<circle cx="364.8" cy="712.59" r="2.75"/>
<circle cx="350.46" cy="717.5" r="2.75"/>
<circle cx="309.63" cy="684.55" r="2.75"/>
<circle cx="303.5" cy="687.19" r="2.75"/>
<circle cx="312.27" cy="691.22" r="2.75"/>
<circle cx="332.43" cy="691.58" r="2.75"/>
<circle cx="328.88" cy="694.18" r="2.75"/>
<circle cx="321.89" cy="695.94" r="2.75"/>
<circle cx="328.88" cy="697.69" r="2.75"/>
<circle cx="321.03" cy="700.33" r="2.75"/>
<circle cx="326.3" cy="702.09" r="2.75"/>
<circle cx="331.52" cy="702.97" r="2.75"/>
<circle cx="316.62" cy="704.72" r="2.75"/>
<circle cx="322.75" cy="706.44" r="2.75"/>
<circle cx="328.88" cy="707.32" r="2.75"/>
<circle cx="333.29" cy="709.08" r="2.75"/>
<circle cx="336.79" cy="714.35" r="2.75"/>
<circle cx="327.16" cy="711.71" r="2.75"/>
<circle cx="323.67" cy="718.74" r="2.75"/>
<circle cx="317.54" cy="716.11" r="2.75"/>
<circle cx="311.41" cy="707.32" r="2.75"/>
<circle cx="305.28" cy="705.6" r="2.75"/>
<circle cx="307.86" cy="700.33" r="2.75"/>
<circle cx="302.64" cy="694.18" r="2.75"/>
<circle cx="307" cy="695.06" r="2.75"/>
<circle cx="310.49" cy="712.59" r="2.75"/>
<circle cx="305.28" cy="716.11" r="2.75"/>
<circle cx="307" cy="721.34" r="2.75"/>
<circle cx="316.62" cy="724.49" r="2.75"/>
<circle cx="300.87" cy="710.83" r="2.75"/>
<circle cx="421.74" cy="649.05" r="2.75"/>
<circle cx="465.46" cy="669.46" r="2.75"/>
<circle cx="423.36" cy="672.73" r="2.75"/>
<circle cx="409.89" cy="676.21" r="2.75"/>
<circle cx="275.23" cy="709.52" r="2.75"/>
<circle cx="263.43" cy="718.74" r="2.75"/>
<circle cx="270.83" cy="737.63" r="2.75"/>
<circle cx="300.56" cy="709.96" r="2.75"/>
<circle cx="272.8" cy="726.77" r="2.75"/>
<circle cx="276.04" cy="734.88" r="2.75"/>
<circle cx="269.81" cy="724.13" r="2.75"/>
<circle cx="282.17" cy="724.93" r="2.75"/>
<circle cx="266.67" cy="738.39" r="2.75"/>
<circle cx="338.96" cy="685.95" r="2.75"/>
<circle cx="282.43" cy="715.35" r="2.75"/>
<circle cx="273.11" cy="730.13" r="2.75"/>
<circle cx="293.47" cy="710.55" r="2.75"/>
<circle cx="279.24" cy="720.74" r="2.75"/>
<circle cx="253.96" cy="736.88" r="2.75"/>
<circle cx="258.36" cy="725.69" r="2.75"/>
<circle cx="250.01" cy="738.11" r="2.75"/>
<circle cx="252.44" cy="733.6" r="2.75"/>
<circle cx="255.07" cy="743.9" r="2.75"/>
<circle cx="278.12" cy="723.54" r="2.75"/>
<circle cx="291.04" cy="722.7" r="2.75"/>
<circle cx="266.32" cy="730.72" r="2.75"/>
<circle cx="288.05" cy="714.99" r="2.75"/>
<circle cx="265.2" cy="737.23" r="2.75"/>
<circle cx="254.77" cy="747.18" r="2.75"/>
<circle cx="294.89" cy="716.07" r="2.75"/>
<circle cx="275.69" cy="710.99" r="2.75"/>
<circle cx="304.67" cy="703.84" r="2.75"/>
<circle cx="247.17" cy="739.19" r="2.75"/>
<circle cx="303.71" cy="711.47" r="2.75"/>
<circle cx="320.52" cy="700.53" r="2.75"/>
<circle cx="265.25" cy="735.04" r="2.75"/>
<circle cx="280.4" cy="719.66" r="2.75"/>
<circle cx="278.48" cy="705.76" r="2.75"/>
<circle cx="277.51" cy="718.26" r="2.75"/>
<circle cx="274.98" cy="725.73" r="2.75"/>
<circle cx="263.43" cy="733.04" r="2.75"/>
<circle cx="315.71" cy="707.08" r="2.75"/>
<circle cx="266.93" cy="727.01" r="2.75"/>
<circle cx="285.72" cy="732.32" r="2.75"/>
<circle cx="285.16" cy="706.44" r="2.75"/>
<circle cx="273.82" cy="723.14" r="2.75"/>
<circle cx="297.37" cy="712.15" r="2.75"/>
<circle cx="261.2" cy="739.31" r="2.75"/>
<circle cx="289.22" cy="709.56" r="2.75"/>
<circle cx="274.32" cy="712.07" r="2.75"/>
<circle cx="273.41" cy="717.14" r="2.75"/>
<circle cx="281.67" cy="722.58" r="2.75"/>
<circle cx="259.58" cy="723.89" r="2.75"/>
<circle cx="285.11" cy="728.81" r="2.75"/>
<circle cx="272.14" cy="743.35" r="2.75"/>
<circle cx="278.78" cy="735.56" r="2.75"/>
<circle cx="266.93" cy="722.98" r="2.75"/>
<circle cx="262.01" cy="734.56" r="2.75"/>
<circle cx="276.4" cy="733.08" r="2.75"/>
<circle cx="251.22" cy="740.47" r="2.75"/>
<circle cx="267.64" cy="742.75" r="2.75"/>
<circle cx="290.13" cy="715.95" r="2.75"/>
<circle cx="287.85" cy="716.67" r="2.75"/>
<circle cx="303.1" cy="707.72" r="2.75"/>
<circle cx="273.36" cy="740.19" r="2.75"/>
<circle cx="258.82" cy="743.19" r="2.75"/>
<circle cx="255.78" cy="745.78" r="2.75"/>
<circle cx="266.67" cy="740.35" r="2.75"/>
<circle cx="268.5" cy="727.81" r="2.75"/>
<circle cx="311.3" cy="711.67" r="2.75"/>
<circle cx="258.97" cy="727.17" r="2.75"/>
<circle cx="285.62" cy="741.35" r="2.75"/>
<circle cx="262.11" cy="741.43" r="2.75"/>
<circle cx="258.06" cy="735.52" r="2.75"/>
<circle cx="295.75" cy="722.14" r="2.75"/>
<circle cx="283.29" cy="721.82" r="2.75"/>
<circle cx="288.51" cy="720.7" r="2.75"/>
<circle cx="282.63" cy="747.14" r="2.75"/>
<circle cx="297.42" cy="722.58" r="2.75"/>
<circle cx="275.69" cy="718.46" r="2.75"/>
<circle cx="270.12" cy="713.75" r="2.75"/>
<circle cx="326.05" cy="697.49" r="2.75"/>
<circle cx="268.8" cy="735.8" r="2.75"/>
<circle cx="272.6" cy="734.88" r="2.75"/>
<circle cx="257.5" cy="733.32" r="2.75"/>
<circle cx="267.58" cy="718.66" r="2.75"/>
<circle cx="280.35" cy="714.07" r="2.75"/>
<circle cx="288.66" cy="734.84" r="2.75"/>
<circle cx="294.94" cy="718.1" r="2.75"/>
<circle cx="281.26" cy="731.04" r="2.75"/>
<circle cx="270.17" cy="733" r="2.75"/>
<circle cx="274.58" cy="738.07" r="2.75"/>
<circle cx="269.92" cy="740.47" r="2.75"/>
<circle cx="254.82" cy="739.67" r="2.75"/>
<circle cx="268.24" cy="737.83" r="2.75"/>
<circle cx="269.51" cy="720.14" r="2.75"/>
<circle cx="264.14" cy="742.23" r="2.75"/>
<circle cx="282.88" cy="730.09" r="2.75"/>
<circle cx="269.76" cy="722.14" r="2.75"/>
<circle cx="257.15" cy="741.91" r="2.75"/>
<circle cx="270.42" cy="726.21" r="2.75"/>
<circle cx="295.55" cy="724.85" r="2.75"/>
<circle cx="265.05" cy="729.41" r="2.75"/>
<circle cx="277.46" cy="739.79" r="2.75"/>
<circle cx="262.47" cy="730.28" r="2.75"/>
<circle cx="318.45" cy="710.63" r="2.75"/>
<circle cx="272.4" cy="732.68" r="2.75"/>
<circle cx="285.27" cy="727.21" r="2.75"/>
<circle cx="303" cy="713.63" r="2.75"/>
<circle cx="332.89" cy="703.92" r="2.75"/>
<circle cx="277.97" cy="730.28" r="2.75"/>
<circle cx="268.14" cy="731" r="2.75"/>
<circle cx="275.94" cy="723.93" r="2.75"/>
<circle cx="251.07" cy="744.1" r="2.75"/>
<circle cx="267.79" cy="745.34" r="2.75"/>
<circle cx="287.49" cy="706.88" r="2.75"/>
<circle cx="283.29" cy="736.99" r="2.75"/>
<circle cx="258.21" cy="736.91" r="2.75"/>
<circle cx="267.38" cy="729.45" r="2.75"/>
<circle cx="271.23" cy="730.4" r="2.75"/>
<circle cx="292.41" cy="726.85" r="2.75"/>
<circle cx="288.81" cy="718.58" r="2.75"/>
<circle cx="276.91" cy="721.7" r="2.75"/>
<circle cx="343.57" cy="693.34" r="2.75"/>
<circle cx="274.17" cy="728.53" r="2.75"/>
<circle cx="261.1" cy="736.28" r="2.75"/>
<circle cx="264.85" cy="739.15" r="2.75"/>
<circle cx="272.35" cy="721.9" r="2.75"/>
<circle cx="280.45" cy="725.33" r="2.75"/>
<circle cx="264.55" cy="731.28" r="2.75"/>
<circle cx="278.58" cy="725.77" r="2.75"/>
<circle cx="275.13" cy="740.47" r="2.75"/>
<circle cx="280.25" cy="717.82" r="2.75"/>
<circle cx="255.22" cy="741.87" r="2.75"/>
<circle cx="255.53" cy="736.2" r="2.75"/>
<circle cx="294.74" cy="705.64" r="2.75"/>
<circle cx="303.81" cy="715.19" r="2.75"/>
<circle cx="269.76" cy="710.91" r="2.75"/>
<circle cx="311.76" cy="696.78" r="2.75"/>
<circle cx="266.93" cy="736.08" r="2.75"/>
<circle cx="262.16" cy="724.93" r="2.75"/>
<circle cx="257.86" cy="739.27" r="2.75"/>
<circle cx="310.9" cy="689.75" r="2.75"/>
<circle cx="270.22" cy="728.21" r="2.75"/>
<circle cx="277.06" cy="714.75" r="2.75"/>
<circle cx="249.35" cy="732.72" r="2.75"/>
<circle cx="284.81" cy="712.63" r="2.75"/>
<circle cx="274.32" cy="721.54" r="2.75"/>
<circle cx="324.43" cy="695.86" r="2.75"/>
<circle cx="283.39" cy="716.83" r="2.75"/>
<circle cx="318.95" cy="698.05" r="2.75"/>
<circle cx="278.73" cy="737.39" r="2.75"/>
<circle cx="309.23" cy="696.66" r="2.75"/>
<circle cx="256.44" cy="729.85" r="2.75"/>
<circle cx="265.56" cy="732.8" r="2.75"/>
<circle cx="289.47" cy="724.17" r="2.75"/>
<circle cx="274.93" cy="743.74" r="2.75"/>
<circle cx="279.19" cy="711.71" r="2.75"/>
<circle cx="285.11" cy="698.13" r="2.75"/>
<circle cx="259.83" cy="748.26" r="2.75"/>
<circle cx="271.64" cy="724.93" r="2.75"/>
<circle cx="285.82" cy="723.38" r="2.75"/>
<circle cx="259.28" cy="734.36" r="2.75"/>
<circle cx="286.13" cy="721.34" r="2.75"/>
<circle cx="263.38" cy="735.68" r="2.75"/>
<circle cx="264.95" cy="723.14" r="2.75"/>
<circle cx="276.65" cy="729.13" r="2.75"/>
<circle cx="269.66" cy="745.22" r="2.75"/>
<circle cx="285.57" cy="708.08" r="2.75"/>
<circle cx="272.5" cy="710.91" r="2.75"/>
<circle cx="280.91" cy="734.12" r="2.75"/>
<circle cx="264.9" cy="718.02" r="2.75"/>
<circle cx="275.18" cy="719.78" r="2.75"/>
<circle cx="311" cy="704.8" r="2.75"/>
<circle cx="290.94" cy="733.6" r="2.75"/>
<circle cx="265.46" cy="744.74" r="2.75"/>
<circle cx="281.31" cy="699.93" r="2.75"/>
<circle cx="302.13" cy="732.8" r="2.75"/>
<circle cx="315.1" cy="699.09" r="2.75"/>
</g>
<path class="d" stroke-width="1.8" stroke-dasharray="7.0 5.0" stroke-dashoffset="1.5" d="M235.36 763.51L465.87 581.79"/>
<text class="t" x="222.7" y="784.1" font-size="7.7" text-anchor="middle">0</text>
<text class="t" x="273.36" y="784.1" font-size="7.7" text-anchor="middle">100</text>
<text class="t" x="324.02" y="784.1" font-size="7.7" text-anchor="middle">200</text>
<text class="t" x="374.68" y="784.1" font-size="7.7" text-anchor="middle">300</text>
<text class="t" x="425.34" y="784.1" font-size="7.7" text-anchor="middle">400</text>
<text class="t" x="476" y="784.1" font-size="7.7" text-anchor="middle">500</text>
<text class="t" x="219.2" y="776.77" font-size="7.7" text-anchor="end">0</text>
<text class="t" x="219.2" y="756.8" font-size="7.7" text-anchor="end">50</text>
<text class="t" x="219.2" y="736.83" font-size="7.7" text-anchor="end">100</text>
<text class="t" x="219.2" y="716.86" font-size="7.7" text-anchor="end">150</text>
<text class="t" x="219.2" y="696.89" font-size="7.7" text-anchor="end">200</text>
<text class="t" x="219.2" y="676.92" font-size="7.7" text-anchor="end">250</text>
<text class="t" x="219.2" y="656.95" font-size="7.7" text-anchor="end">300</text>
<text class="t" x="219.2" y="636.98" font-size="7.7" text-anchor="end">350</text>
<text class="t" x="219.2" y="617.01" font-size="7.7" text-anchor="end">400</text>
<text class="t" x="219.2" y="597.04" font-size="7.7" text-anchor="end">450</text>
<text class="t" x="219.2" y="577.07" font-size="7.7" text-anchor="end">500</text>
<text class="l" x="349.35" y="797" font-size="9.4" text-anchor="middle">Measured Values</text>
<text class="l" transform="translate(200.5 673.65) rotate(-90)" font-size="9.4" text-anchor="middle">Predicted Values</text>
<text class="c" x="339" y="814" font-size="17.45" text-anchor="middle">(e) ANN</text>
</g>
</svg></body></html>
